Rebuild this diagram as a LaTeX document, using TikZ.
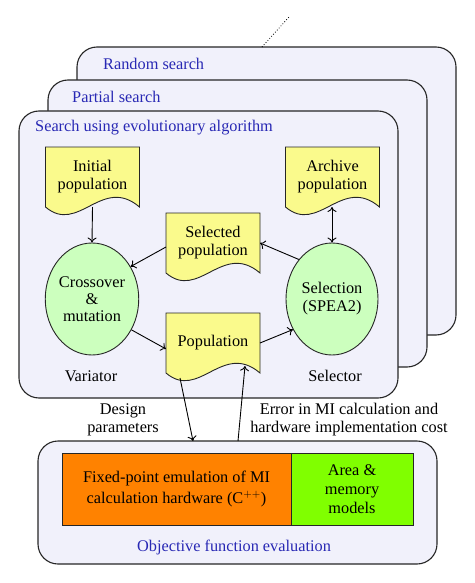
\documentclass[tikz,border=0pt]{standalone}
\usepackage{fontspec}
\setmainfont{Liberation Serif}
\usetikzlibrary{shapes.geometric,calc,arrows.meta}
\pgfdeclarelayer{bg}\pgfdeclarelayer{mid}\pgfsetlayers{bg,mid,main}
\definecolor{lav}{RGB}{241,241,251}
\definecolor{docyel}{RGB}{250,250,140}
\definecolor{ellgreen}{RGB}{204,255,190}
\definecolor{orng}{RGB}{255,130,0}
\definecolor{lgreen}{RGB}{128,255,0}
\definecolor{bluetxt}{RGB}{40,40,180}
\newcommand\fs{\fontsize{16.3}{18}\selectfont}
\tikzset{
  panel/.style={draw=black!85, fill=lav, line width=1.1pt, rounded corners=20pt, inner sep=0pt, outer sep=0pt},
  doctext/.style={minimum width=94pt, minimum height=60pt, inner sep=0pt, outer sep=0pt, align=center, font=\fs},
  docline/.style={draw=black!85, fill=docyel, line width=0.9pt},
  ell/.style={ellipse, draw=black!85, fill=ellgreen, line width=0.9pt, minimum width=92pt, minimum height=112pt, inner sep=0pt, align=center, font=\fs},
  lbl/.style={font=\fs, align=center, inner sep=0pt},
  bluelbl/.style={font=\fs, text=bluetxt, inner sep=0pt},
  conn/.style={line width=0.9pt, -{To[length=5pt,width=9pt]}},
  blockbox/.style={draw=black!85, line width=0.9pt, inner sep=0pt, outer sep=0pt, align=center, font=\fs}
}
\newcommand\docshape[1]{\draw[docline] (#1.north west) -- (#1.north east) -- (#1.south east) .. controls ($(#1.south west)!0.6!(#1.south east)+(0,-32)$) and ($(#1.south west)!0.35!(#1.south east)+(0,28)$) .. (#1.south west) -- cycle;}
\begin{document}
\begin{tikzpicture}[x=1pt,y=-1pt]
\useasboundingbox (0,0) rectangle (474,583);
% stacked panels
\begin{pgfonlayer}{bg}
\node[panel, minimum width=379pt, minimum height=288pt] (rs) at (266.5,191) {};
\node[panel, minimum width=379pt, minimum height=287pt] (ps) at (237.5,223.5) {};
\node[panel, minimum width=379pt, minimum height=287pt] (ea) at (208.5,254.5) {};
\node[panel, minimum width=399pt, minimum height=123pt] (obj) at (237.5,502.5) {};
\end{pgfonlayer}
\coordinate (dotA) at (262,47);
\coordinate (dotB) at (289,17);
\draw[line width=0.8pt, dotted] (dotA) -- (dotB);
\node[bluelbl, anchor=west] (rslbl) at (103,64) {Random search};
\node[bluelbl, anchor=west] (pslbl) at (72,97) {Partial search};
\node[bluelbl, anchor=west] (ealbl) at (35,128) {Search using evolutionary algorithm};
% documents
\node[doctext] (ip) at (92.5,177) {Initial\\population};
\node[doctext] (ap) at (332.5,177) {Archive\\population};
\node[doctext] (sp) at (213,243) {Selected\\population};
\node[doctext] (pop) at (213,343) {Population};
\begin{pgfonlayer}{mid}
\docshape{ip}
\docshape{ap}
\docshape{sp}
\docshape{pop}
\end{pgfonlayer}
% ellipses
\node[ell] (cm) at (92,299) {Crossover\\[-1pt]\&\\[-1pt]mutation};
\node[ell] (sel) at (332,299) {Selection\\(SPEA2)};
\node[lbl] (var) at (91,376) {Variator};
\node[lbl] (slc) at (335,376) {Selector};
% connectors
\draw[conn] (ip.south) -- (cm.north);
\draw[line width=0.9pt, {To[length=5pt,width=9pt]}-{To[length=5pt,width=9pt]}] (ap.south -| sel.north) -- (sel.north);
\draw[conn] (sel.130) -- (sp.east);
\draw[conn] ([yshift=-4pt]sp.west) -- (cm.40);
\draw[conn] (cm.-38) -- ([yshift=-6pt]pop.west);
\draw[conn] (pop.east) -- (sel.218);
% objective
\node[blockbox, fill=orng, minimum width=229pt, minimum height=72pt, font=\fontsize{16.3}{21}\selectfont] (fx) at (176.5,489) {Fixed-point emulation of MI\\calculation hardware (C$^{++}$)};
\node[blockbox, fill=lgreen, minimum width=122pt, minimum height=72pt, font=\fontsize{16.3}{19}\selectfont] (am) at (352,489) {Area \&\\memory\\models};
\node[bluelbl] (objlbl) at (234,547) {Objective function evaluation};
\coordinate (dpS) at ([xshift=14pt,yshift=-5pt]pop.south west);
\coordinate (dpE) at (193,441);
\coordinate (erS) at (238,441);
\coordinate (erE) at ([xshift=79pt,yshift=7pt]pop.south west);
\draw[conn] (dpS) -- (dpE);
\draw[conn] (erS) -- (erE);
\node[lbl] (dp) at (123,420) {Design\\parameters};
\node[lbl] (er) at (349,420) {Error in MI calculation and\\hardware implementation cost};
\end{tikzpicture}
\end{document}
